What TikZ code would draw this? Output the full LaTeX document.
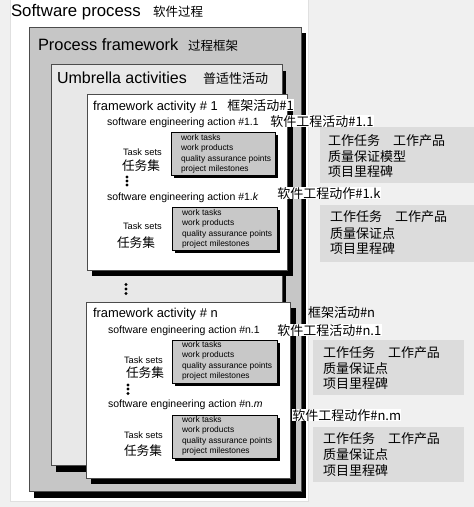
\documentclass[tikz,border=0pt]{standalone}
\usepackage{fontspec}
\setmainfont{Liberation Sans}
\newfontfamily\cjk{Noto Sans CJK SC}
\definecolor{bgg}{HTML}{F0F0F0}
\definecolor{pfg}{HTML}{C6C6C6}
\definecolor{umg}{HTML}{E8E8E8}
\definecolor{tkg}{HTML}{C8C8C8}
\definecolor{rtg}{HTML}{DCDCDC}
\begin{document}
\begin{tikzpicture}[x=1pt,y=-1pt,
  en/.style={anchor=base west,inner sep=0pt,outer sep=0pt,font={\fontsize{#1}{#1}\selectfont}},
  cn/.style={anchor=base west,inner sep=0pt,outer sep=0pt,font={\cjk\fontsize{#1}{#1}\selectfont}},
  cnw/.style={cn=#1,fill=white,inner sep=0.3pt},
  frame/.style={draw=black!70,line width=0.6pt},
  shadow/.style={fill=black},
  taskbox/.style={fill=tkg,draw=black,line width=0.6pt},
  rbox/.style={fill=rtg},
  dot/.style={fill=black}]
\useasboundingbox (0,0) rectangle (474,507);
% background
\fill[bgg] (0,0) rectangle (474,507);
\filldraw[fill=white,draw=black!12] (10,-1) rectangle (308,501);
% process framework
\fill[shadow] (34,33) rectangle (306,498);
\filldraw[fill=pfg,frame] (29,27) rectangle (301,491);
% umbrella activities
\fill[shadow] (56,71) rectangle (286,472);
\filldraw[fill=umg,frame] (51,64) rectangle (282,465);
% framework activity 1
\fill[shadow] (92,100) rectangle (293,276);
\filldraw[fill=white,frame] (87,94) rectangle (287,270);
% framework activity n
\fill[shadow] (91,308) rectangle (296,484);
\filldraw[fill=white,frame] (86,302) rectangle (290,478);
% task boxes
\fill[shadow] (174,135) rectangle (278,178);
\filldraw[taskbox] (171,132) rectangle (275,175);
\fill[shadow] (175,210) rectangle (280,253);
\filldraw[taskbox] (172,207) rectangle (277,250);
\fill[shadow] (175,343) rectangle (280,386);
\filldraw[taskbox] (172,340) rectangle (277,383);
\fill[shadow] (175,418) rectangle (280,461);
\filldraw[taskbox] (172,415) rectangle (277,458);
% right grey boxes
\fill[rbox] (320,127) rectangle (474,183);
\fill[rbox] (320,205) rectangle (474,262);
\fill[rbox] (313,340) rectangle (464,395);
\fill[rbox] (313,427) rectangle (464,482);
% vertical dots
\foreach \yy in {177,181,185} \fill[dot] (127,\yy) circle (1.7pt);
\foreach \yy in {284.5,289,293.5} \fill[dot] (126,\yy) circle (1.7pt);
\foreach \yy in {385,389,393.5} \fill[dot] (128,\yy) circle (1.7pt);
% titles
\node[en=16.8] (tsp) at (11,16) {Software process};
\node[cn=12.5] (csp) at (153,16) {软件过程};
\node[en=16.4] (tpf) at (38,50) {Process framework};
\node[cn=12.5] (cpf) at (188,50) {过程框架};
\node[en=16] (tua) at (57,83) {Umbrella activities};
\node[cn=13] (cua) at (203,83) {普适性活动};
% framework activity 1
\node[en=12.9] (tfa1) at (93,110) {framework activity \# 1};
\node[cnw=13] (cfa1) at (227,110) {框架活动\#1};
\node[en=10.5] (tse11) at (107,125) {software engineering action \#1.1};
\node[cnw=13] (cse11) at (270,126) {软件工程活动\#1.1};
\node[en=8.4] (w1a) at (181,140) {work tasks};
\node[en=8.4] (w1b) at (181,150.5) {work products};
\node[en=8.4] (w1c) at (181,161) {quality assurance points};
\node[en=8.4] (w1d) at (181,171.5) {project milestones};
\node[en=9.3] (ts1) at (123,155) {Task sets};
\node[cn=12.7] (cts1) at (122,170) {任务集};
\node[en=10.5] (tse1k) at (107,200) {software engineering action \#1.\textit{k}};
\node[cnw=13] (cse1k) at (277,198) {软件工程动作\#1.k};
\node[en=8.4] (w2a) at (182,215) {work tasks};
\node[en=8.4] (w2b) at (182,225.5) {work products};
\node[en=8.4] (w2c) at (182,236) {quality assurance points};
\node[en=8.4] (w2d) at (182,246.5) {project milestones};
\node[en=9.3] (ts2) at (123,229) {Task sets};
\node[cn=12.7] (cts2) at (117,247) {任务集};
% right notes 1
\node[cn=13] (r1a) at (328,145) {工作任务\quad 工作产品};
\node[cn=13] (r1b) at (328,161) {质量保证模型};
\node[cn=13] (r1c) at (328,176) {项目里程碑};
\node[cn=13] (r2a) at (330,221) {工作任务\quad 工作产品};
\node[cn=13] (r2b) at (330,238) {质量保证点};
\node[cn=13] (r2c) at (330,253) {项目里程碑};
% framework activity n
\node[en=12.9] (tfan) at (93,317) {framework activity \# n};
\node[cn=13] (cfan) at (308,317) {框架活动\#n};
\node[en=10.5] (tsen1) at (108,333) {software engineering action \#n.1};
\node[cnw=13] (csen1) at (277,335) {软件工程活动\#n.1};
\node[en=8.4] (w3a) at (182,347) {work tasks};
\node[en=8.4] (w3b) at (182,357.5) {work products};
\node[en=8.4] (w3c) at (182,368) {quality assurance points};
\node[en=8.4] (w3d) at (182,378.5) {project milestones};
\node[en=9.3] (ts3) at (124,363) {Task sets};
\node[cn=12.7] (cts3) at (126,377) {任务集};
\node[en=10.5] (tsenm) at (108,407) {software engineering action \#n.\textit{m}};
\node[cnw=13] (csenm) at (292,420) {软件工程动作\#n.m};
\node[en=8.4] (w4a) at (182,422) {work tasks};
\node[en=8.4] (w4b) at (182,432.5) {work products};
\node[en=8.4] (w4c) at (182,443) {quality assurance points};
\node[en=8.4] (w4d) at (182,453.5) {project milestones};
\node[en=9.3] (ts4) at (124,438) {Task sets};
\node[cn=12.7] (cts4) at (124,455) {任务集};
% right notes n
\node[cn=13] (r3a) at (323,357) {工作任务\quad 工作产品};
\node[cn=13] (r3b) at (323,373) {质量保证点};
\node[cn=13] (r3c) at (323,388) {项目里程碑};
\node[cn=13] (r4a) at (323,443) {工作任务\quad 工作产品};
\node[cn=13] (r4b) at (323,459) {质量保证点};
\node[cn=13] (r4c) at (323,475) {项目里程碑};
\end{tikzpicture}
\end{document}
